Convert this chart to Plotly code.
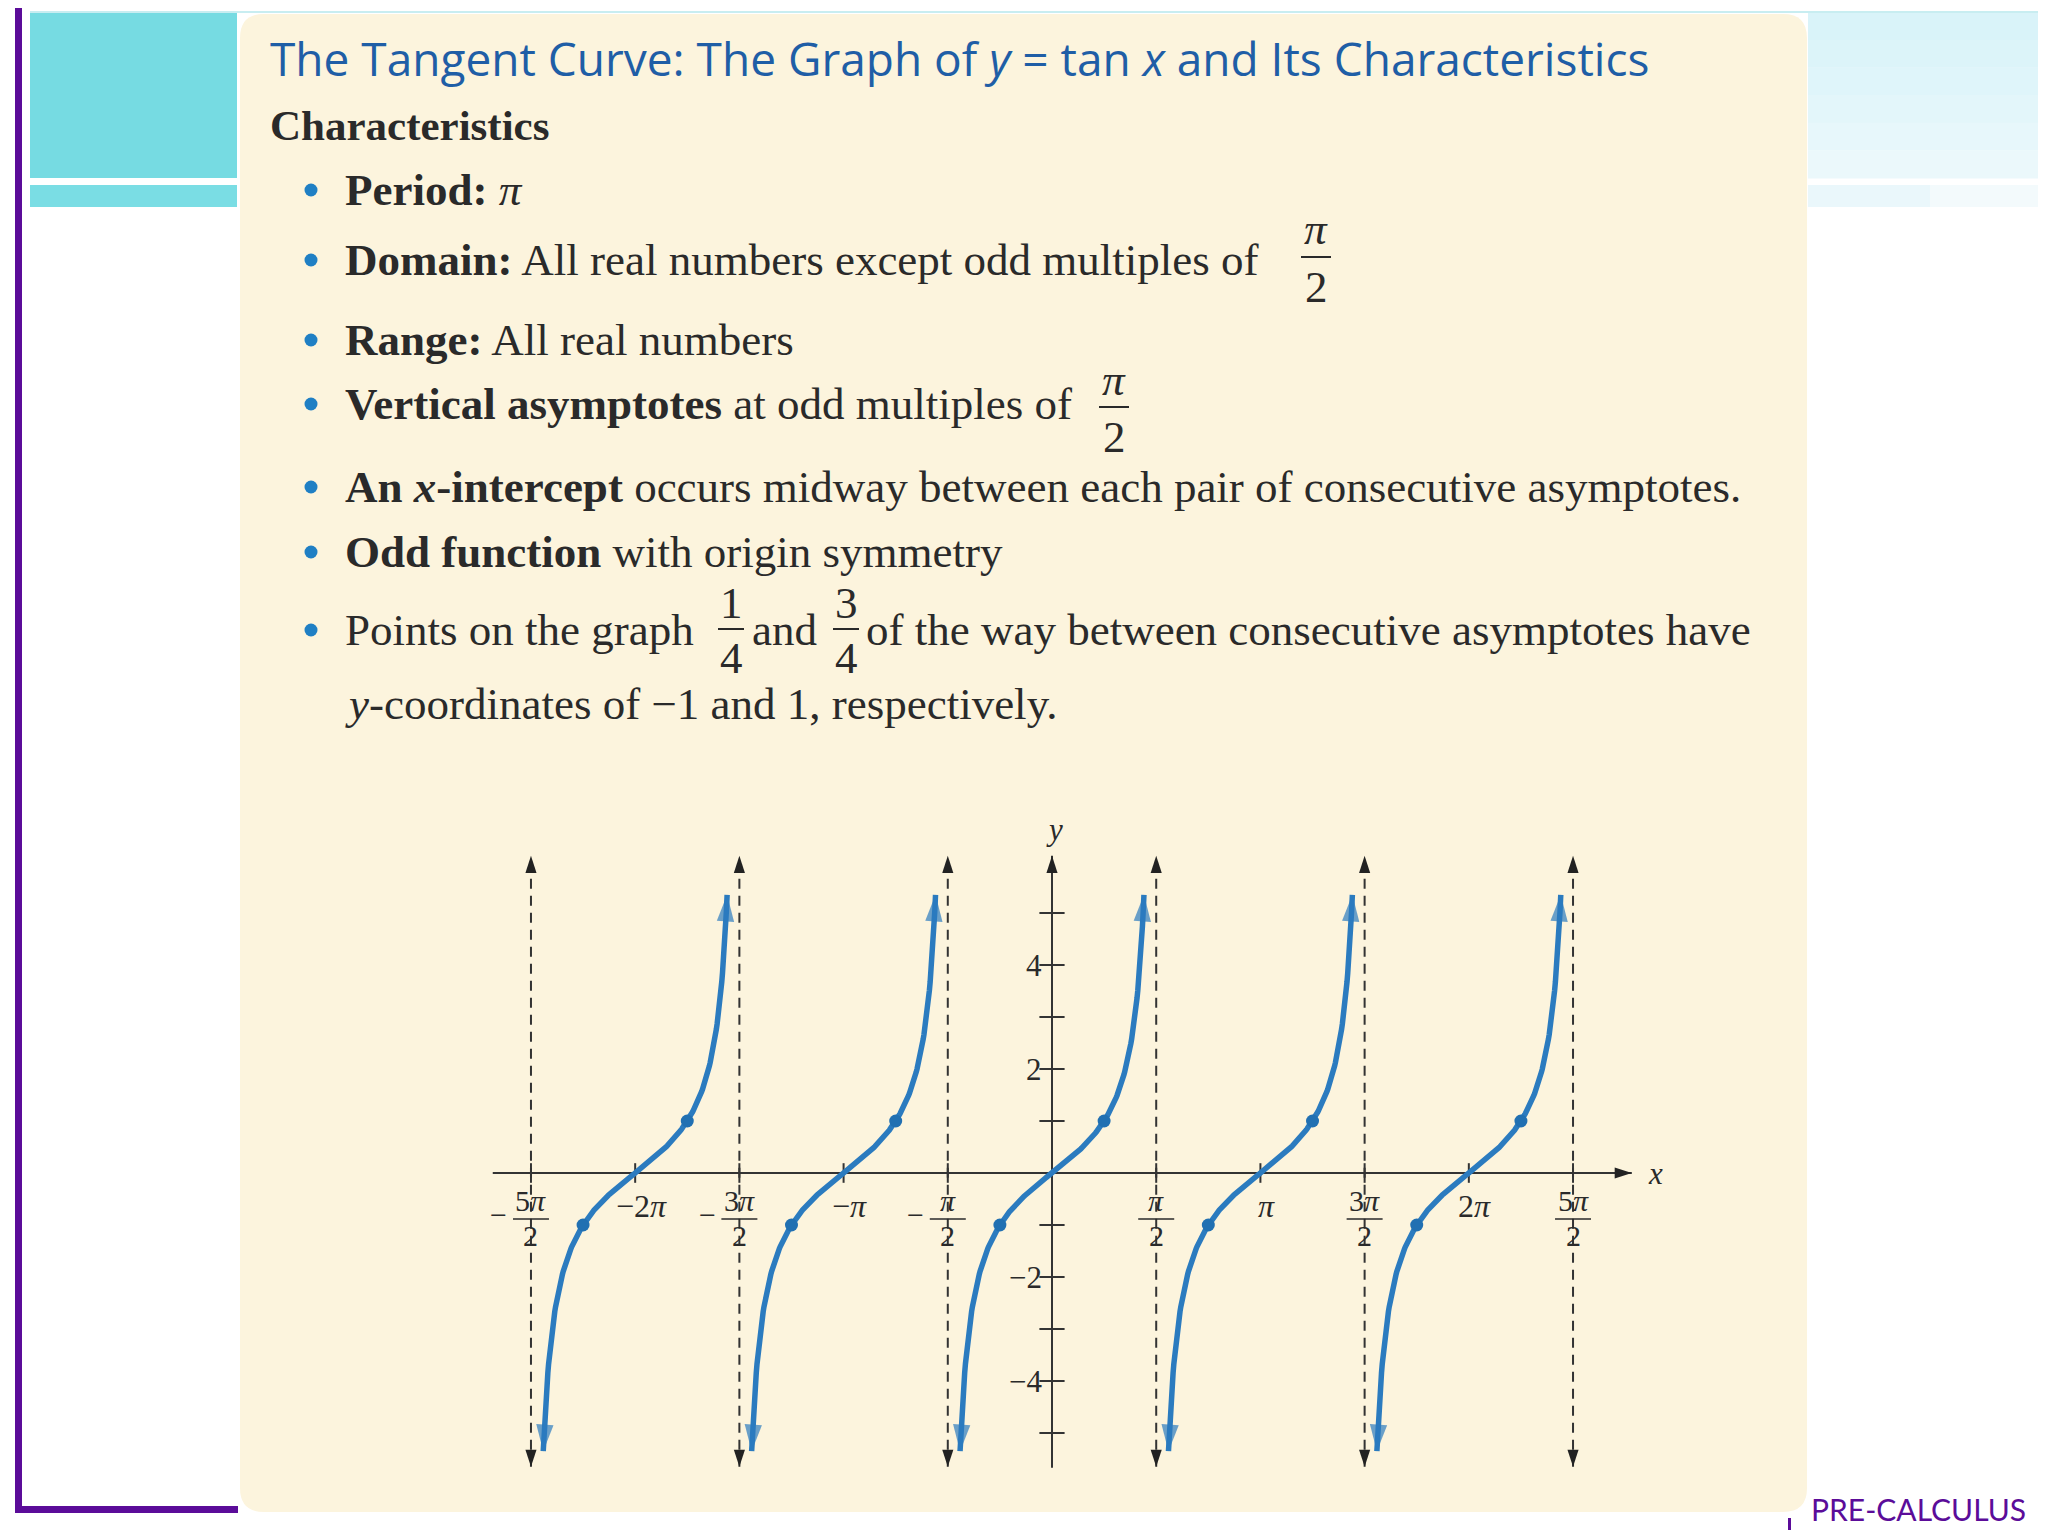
import numpy as np
import plotly.graph_objects as go

W, H = 2048, 1536
OFF = 8                      # page margin of the browser body
FW, FH = W - OFF, H - OFF    # figure size
PI = np.pi

# ---------------- data ----------------
branch_centers = [-2, -1, 0, 1, 2]                  # centre of each branch, in multiples of pi
asymptote_halfpi = [-5, -3, -1, 1, 3, 5]           # vertical asymptotes, multiples of pi/2
xtick_halfpi = [-5, -4, -3, -2, -1, 1, 2, 3, 4, 5]  # x tick positions, multiples of pi/2
xtick_labels = ["−5π/2", "−2π", "−3π/2", "−π", "−π/2", "π/2", "π", "3π/2", "2π", "5π/2"]
ytick_values = [-5, -4, -3, -2, -1, 1, 2, 3, 4, 5]
ytick_labels = ["", "−4", "", "−2", "", "", "2", "", "4", ""]
curve_y_limit = 5.35                               # where each branch stops (arrow tips)
quarter_offsets = [-0.25, 0.25]                    # 1/4 and 3/4 of the way (in pi, from centre)
quarter_values = [-1, 1]                           # y-values at those points
asym_extent = [-5.65, 6.1]
x_axis_extent = [-8.43, 8.74]
y_axis_extent = [-5.67, 6.1]

title_text = "The Tangent Curve: The Graph of <i>y</i> = tan <i>x</i> and Its Characteristics"
heading_text = "<b>Characteristics</b>"

# ---------------- layout constants ----------------
ORIGIN_X, ORIGIN_Y = 1052, 1173     # pixel position of (0, 0)
PX_PER_X, PX_PER_Y = 66.34, 52.0

BLUE = "#2b7bbf"
INK = "#2a2a2a"
CREAM = "#fcf4dd"
PURPLE = "#5b0c99"
SERIF = "Liberation Serif, Times New Roman, serif"
SANS = "Open Sans, Lato, sans-serif"


def px(x):
    return (x - OFF) / FW


def py(y):
    return 1 - (y - OFF) / FH


def rounded_rect(x0, y0, x1, y1, r):
    p = lambda a, b: f"{px(a):.5f},{py(b):.5f}"
    return (f"M {p(x0 + r, y0)} L {p(x1 - r, y0)} Q {p(x1, y0)} {p(x1, y0 + r)} "
            f"L {p(x1, y1 - r)} Q {p(x1, y1)} {p(x1 - r, y1)} "
            f"L {p(x0 + r, y1)} Q {p(x0, y1)} {p(x0, y1 - r)} "
            f"L {p(x0, y0 + r)} Q {p(x0, y0)} {p(x0 + r, y0)} Z")


shapes = []
annotations = []


def rect(x0, y0, x1, y1, color):
    shapes.append(dict(type="rect", xref="paper", yref="paper", x0=px(x0), x1=px(x1),
                       y0=py(y1), y1=py(y0), fillcolor=color, line_width=0, layer="below"))


# ---------------- decoration ----------------
rect(30, 12, 237, 178, "#76dbe2")
rect(30, 185, 237, 207, "#7adde4")
right_band_colors = ["#d9f3f9", "#dcf4f9", "#dff5fa", "#e3f6fa", "#e7f7fb", "#ebf8fb"]
band_h = (178 - 12) / len(right_band_colors)
for i, col in enumerate(right_band_colors):
    rect(1808, 12 + i * band_h, 2038, 12 + (i + 1) * band_h + 0.5, col)
rect(1808, 185, 1930, 207, "#eaf7fb")
rect(1930, 185, 2038, 207, "#f3fafc")
rect(30, 11, 2038, 13, "#c8edf1")
shapes.append(dict(type="path", xref="paper", yref="paper", path=rounded_rect(240, 14, 1807, 1512, 24),
                   fillcolor=CREAM, line_width=0, layer="below"))
rect(15, 8, 22, 1513, PURPLE)
rect(15, 1506, 238, 1513, PURPLE)
rect(1788, 1518, 1791, 1530, PURPLE)


def text(x, y, s, size, color=INK, family=SERIF, xanchor="left"):
    annotations.append(dict(x=px(x), y=py(y), xref="paper", yref="paper", text=s, showarrow=False,
                            xanchor=xanchor, yanchor="middle",
                            font=dict(size=size, color=color, family=family)))


def frac(xc, y_num, y_bar, y_den, num, den, size, halfw):
    text(xc, y_num, num, size, xanchor="center")
    text(xc, y_den, den, size, xanchor="center")
    shapes.append(dict(type="line", xref="paper", yref="paper", x0=px(xc - halfw), x1=px(xc + halfw),
                       y0=py(y_bar), y1=py(y_bar), line=dict(color=INK, width=2)))


text(2028, 1509, "PRE-CALCULUS", 30, PURPLE, "Lato, Open Sans, sans-serif", xanchor="right")
text(268, 58, title_text, 46, "#1f5ea6", SANS)
text(268, 126, heading_text, 43)

BS = 45
bullet_rows = [190, 260, 340, 404, 487, 552, 630]
for by in bullet_rows:
    shapes.append(dict(type="circle", xref="paper", yref="paper",
                       x0=px(311 - 6.5), x1=px(311 + 6.5), y0=py(by + 6.5), y1=py(by - 6.5),
                       fillcolor="#1f7fc4", line_width=0))

TX = 343
text(TX, 190, "<b>Period:</b> <i>π</i>", BS)
text(TX, 260, "<b>Domain:</b> All real numbers except odd multiples of", BS)
frac(1316, 229, 257, 287, "<i>π</i>", "2", BS, 15)
text(TX, 340, "<b>Range:</b> All real numbers", BS)
text(TX, 404, "<b>Vertical asymptotes</b> at odd multiples of", BS)
frac(1114, 380, 407, 437, "<i>π</i>", "2", BS, 15)
text(TX, 487, "<b>An <i>x</i>-intercept</b> occurs midway between each pair of consecutive asymptotes.", BS)
text(TX, 552, "<b>Odd function</b> with origin symmetry", BS)
text(TX, 630, "Points on the graph", BS)
frac(731, 603, 629, 658, "1", "4", BS, 13)
text(750, 630, "and", BS)
frac(846, 603, 629, 658, "3", "4", BS, 13)
text(864, 630, "of the way between consecutive asymptotes have", BS)
text(TX, 704, "<i>y</i>-coordinates of −1 and 1, respectively.", BS)

# ---------------- graph ----------------
fig = go.Figure()

# asymptotes
ax_x, ax_y = [], []
for a in asymptote_halfpi:
    ax_x += [a * PI / 2, a * PI / 2, None]
    ax_y += [asym_extent[0], asym_extent[1], None]
fig.add_trace(go.Scatter(x=ax_x, y=ax_y, mode="lines",
                         line=dict(color="#333333", width=2, dash="10px,7px"), hoverinfo="skip"))
fig.add_trace(go.Scatter(x=[a * PI / 2 for a in asymptote_halfpi] * 2,
                         y=[asym_extent[1]] * len(asymptote_halfpi) + [asym_extent[0]] * len(asymptote_halfpi),
                         mode="markers",
                         marker=dict(symbol="arrow", size=18, color="#222222",
                                     angle=[0] * len(asymptote_halfpi) + [180] * len(asymptote_halfpi),
                                     line_width=0), hoverinfo="skip"))

# axes
fig.add_trace(go.Scatter(x=x_axis_extent, y=[0, 0], mode="lines", line=dict(color="#333333", width=2),
                         hoverinfo="skip"))
fig.add_trace(go.Scatter(x=[0, 0], y=y_axis_extent, mode="lines", line=dict(color="#333333", width=2),
                         hoverinfo="skip"))
fig.add_trace(go.Scatter(x=[x_axis_extent[1], 0], y=[0, y_axis_extent[1]], mode="markers",
                         marker=dict(symbol="arrow", size=18, color="#222222", angle=[90, 0], line_width=0),
                         hoverinfo="skip"))
# ticks
fig.add_trace(go.Scatter(x=[t * PI / 2 for t in xtick_halfpi], y=[0] * len(xtick_halfpi), mode="markers",
                         marker=dict(symbol="line-ns", size=14, line=dict(color="#333333", width=2)),
                         hoverinfo="skip"))
fig.add_trace(go.Scatter(x=[0] * len(ytick_values), y=ytick_values, mode="markers",
                         marker=dict(symbol="line-ew", size=18, line=dict(color="#333333", width=2)),
                         hoverinfo="skip"))

# tangent branches
d = np.arctan(1 / curve_y_limit)
for c in branch_centers:
    u = np.linspace(-PI / 2 + d, PI / 2 - d, 240)
    xs = c * PI + u
    ys = np.tan(u)
    fig.add_trace(go.Scatter(x=xs, y=ys, mode="lines", line=dict(color=BLUE, width=5.5),
                             hoverinfo="skip"))
    for xa, ya in ((xs[-8:], ys[-8:]), (xs[:8][::-1], ys[:8][::-1])):
        fig.add_trace(go.Scatter(x=[xa[0], xa[-1]], y=[ya[0], ya[-1]], mode="markers",
                                 marker=dict(symbol="arrow", size=[0, 28], color=BLUE,
                                             angleref="previous", line_width=0),
                                 hoverinfo="skip"))

# points 1/4 and 3/4 of the way between asymptotes
kx, ky = [], []
for c in branch_centers:
    for o, v in zip(quarter_offsets, quarter_values):
        kx.append((c + o) * PI)
        ky.append(v)
fig.add_trace(go.Scatter(x=kx, y=ky, mode="markers", marker=dict(size=13, color="#2170b2"),
                         hoverinfo="skip"))

# tick labels
for t, lab in zip(xtick_halfpi, xtick_labels):
    xv = t * PI / 2
    neg = lab.startswith("−")
    body = lab[1:] if neg else lab
    if "/" in body:
        num, den = body.split("/")
        num = num.replace("π", "<i>π</i>")
        annotations.append(dict(x=xv, y=0, xref="x", yref="y", text=num, showarrow=False,
                                yshift=-27, font=dict(size=30, color=INK, family=SERIF)))
        annotations.append(dict(x=xv, y=0, xref="x", yref="y", text=den, showarrow=False,
                                yshift=-62, font=dict(size=30, color=INK, family=SERIF)))
        shapes.append(dict(type="line", xref="x", yref="y", xsizemode="pixel", ysizemode="pixel",
                           xanchor=xv, yanchor=0, x0=-18, x1=18, y0=-46, y1=-46,
                           line=dict(color=INK, width=1.5)))
        if neg:
            annotations.append(dict(x=xv, y=0, xref="x", yref="y", text="−", showarrow=False,
                                    xshift=-32, yshift=-41, font=dict(size=30, color=INK, family=SERIF)))
    else:
        annotations.append(dict(x=xv, y=0, xref="x", yref="y",
                                text=lab.replace("π", "<i>π</i>"), showarrow=False,
                                xshift=6, yshift=-33, font=dict(size=32, color=INK, family=SERIF)))

for v, lab in zip(ytick_values, ytick_labels):
    if lab:
        annotations.append(dict(x=0, y=v, xref="x", yref="y", text=lab, showarrow=False,
                                xanchor="right", xshift=-8, font=dict(size=31, color=INK, family=SERIF)))

annotations.append(dict(x=0, y=y_axis_extent[1], xref="x", yref="y", text="<i>y</i>", showarrow=False,
                        xshift=2, yshift=26, font=dict(size=31, color=INK, family=SERIF)))
annotations.append(dict(x=x_axis_extent[1], y=0, xref="x", yref="y", text="<i>x</i>", showarrow=False,
                        xanchor="left", xshift=14, font=dict(size=31, color=INK, family=SERIF)))

fig.update_layout(
    width=FW, height=FH, margin=dict(l=0, r=0, t=0, b=0),
    paper_bgcolor="white", plot_bgcolor="rgba(0,0,0,0)",
    showlegend=False, hovermode=False,
    xaxis=dict(range=[(OFF - ORIGIN_X) / PX_PER_X, (W - ORIGIN_X) / PX_PER_X], visible=False, domain=[0, 1]),
    yaxis=dict(range=[(ORIGIN_Y - H) / PX_PER_Y, (ORIGIN_Y - OFF) / PX_PER_Y], visible=False, domain=[0, 1]),
    shapes=shapes, annotations=annotations,
)

fig.write_html("out.html")
